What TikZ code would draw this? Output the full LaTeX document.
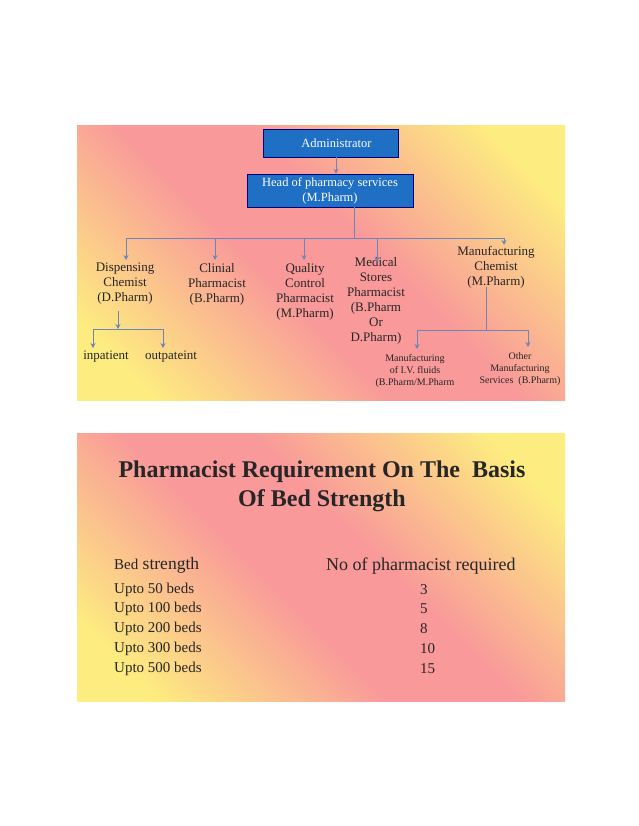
\documentclass[tikz,border=0pt]{standalone}
\usepackage{fontspec}
\setmainfont{Liberation Serif}
\usetikzlibrary{arrows.meta}
\definecolor{boxblue}{HTML}{1F6FC4}
\definecolor{lnc}{HTML}{6F85B8}
\definecolor{ylw}{HTML}{FDEC80}
\definecolor{pnk}{HTML}{F9999A}
\pgfdeclareverticalshading{myband}{100bp}{color(0bp)=(ylw); color(22bp)=(ylw); color(44bp)=(pnk); color(56bp)=(pnk); color(78bp)=(ylw); color(100bp)=(ylw)}
\begin{document}
\begin{tikzpicture}[x=1pt,y=-1pt,
 box/.style={draw=blue!50!black,fill=boxblue,text=white,font=\fontsize{12.5}{15}\selectfont,align=center,inner sep=0pt},
 lbl/.style={font=\fontsize{13}{15}\selectfont,align=center,inner sep=0pt,text=black!85},
 sm/.style={font=\fontsize{10}{12}\selectfont,align=center,inner sep=0pt,text=black!85},
 ln/.style={draw=lnc,line width=0.8pt},
 arr/.style={ln,-{Stealth[length=5pt,width=5pt]}},
 tb/.style={font=\fontsize{15}{18}\selectfont,anchor=west,inner sep=0pt,text=black!85},
 bg/.style={shading=myband,shading angle=135}]
\useasboundingbox (0,0) rectangle (638,826);
\fill[white] (0,0) rectangle (638,826);
\shade[bg] (77,126) rectangle (565,400);
\shade[bg] (77,433) rectangle (565,701);
% top slide
\node[box,minimum width=135,minimum height=28] (adm) at (330.5,143) {\hspace*{12pt}Administrator};
\node[box,minimum width=166,minimum height=33] (head) at (330,190.5) {Head of pharmacy services\\(M.Pharm)};
\draw[arr] (adm.south -| 336,0) -- (head.north -| 336,0);
\coordinate (j) at (354,238);
\draw[ln] (head.south -| 354,0) -- (j);
\coordinate (hl) at (126,238); \coordinate (hr) at (504,238);
\draw[ln] (hl) -- (hr);
\node[lbl] (dis) at (125,284) {Dispensing\\Chemist\\(D.Pharm)};
\node[lbl] (cli) at (217,284) {Clinial\\Pharmacist\\(B.Pharm)};
\node[lbl] (qc) at (305,291.5) {Quality\\Control\\Pharmacist\\(M.Pharm)};
\node[lbl] (med) at (376,300.5) {Medical\\Stores\\Pharmacist\\(B.Pharm\\Or\\D.Pharm)};
\node[lbl] (man) at (496,267) {Manufacturing\\Chemist\\(M.Pharm)};
\draw[arr] (hl) -- (126,260);
\draw[arr] (215,238) -- (215,260);
\draw[arr] (304,238) -- (304,260);
\draw[arr] (377,238) -- (377,262);
\draw[arr] (hr) -- (504,245);
% dispensing split
\coordinate (dj) at (118,329);
\draw[arr] (118,311) -- (dj);
\draw[ln] (93,329) -- (163,329);
\node[lbl] (inp) at (106,357) {inpatient};
\node[lbl] (outp) at (171,357) {outpateint};
\draw[arr] (93,329) -- (93,348);
\draw[arr] (163,329) -- (163,348);
% manufacturing split
\draw[ln] (486,287) -- (486,330);
\draw[ln] (417,330) -- (528,330);
\draw[arr] (417,330) -- (417,349);
\draw[arr] (528,330) -- (528,347);
\node[sm] (iv) at (415,371) {Manufacturing\\of I.V. fluids\\(B.Pharm/M.Pharm};
\node[sm] (oth) at (520,369) {Other\\Manufacturing\\Services\ \ (B.Pharm)};
% bottom slide
\node[font=\bfseries\fontsize{24}{29}\selectfont,align=center,text=black!85,inner sep=0pt] (title) at (322,486) {Pharmacist Requirement On The\ \ Basis\\Of Bed Strength};
\node[tb,font=\fontsize{17.5}{18}\selectfont] (bs) at (114,565) {{\fontsize{15}{15}\selectfont Bed} strength};
\node[tb,font=\fontsize{18}{18}\selectfont] (np) at (326,566) {No of pharmacist required};
\foreach \t/\n/\y in {50/3/590,100/5/609,200/8/629,300/10/649,500/15/669}{
 \node[tb] at (114,\y) {Upto \t\ beds};
 \node[tb] at (420,\y) {\n};
}
\end{tikzpicture}
\end{document}
